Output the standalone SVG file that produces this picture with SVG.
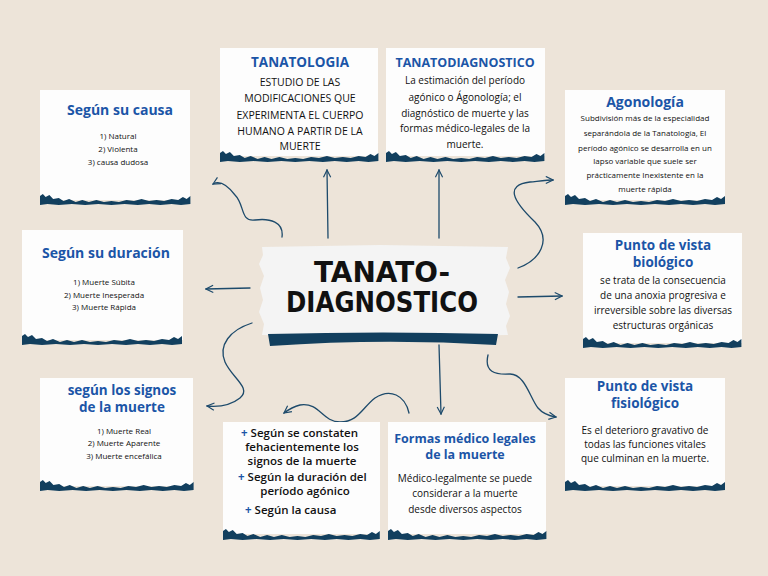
<svg xmlns="http://www.w3.org/2000/svg" width="768" height="576" viewBox="0 0 768 576">
<style>
.card{fill:#fdfdfd}
.tear{fill:#123f5e}
.ttl{font-family:"Open Sans","Noto Sans",sans-serif;font-weight:700;fill:#1b55a7;text-anchor:middle}
.body{font-family:"Open Sans","Noto Sans",sans-serif;fill:#111;text-anchor:middle}
.bul{font-family:"Open Sans","Noto Sans",sans-serif;font-weight:600;fill:#111;font-size:11.5px}
.plus{fill:#1b55a7;font-weight:700}
.con{fill:none;stroke:#1d4a6b;stroke-width:1.3;stroke-linecap:round}
.big{font-family:"DejaVu Sans","Liberation Sans",sans-serif;font-weight:700;fill:#111;text-anchor:middle;font-size:28px}
</style>
<defs>
<marker id="ah" viewBox="0 0 10 10" refX="9" refY="5" markerWidth="9" markerHeight="9" orient="auto" markerUnits="userSpaceOnUse">
<path d="M1,1 L9,5 L1,9" fill="none" stroke="#1d4a6b" stroke-width="1.3"/>
</marker>
<path id="tearp" d="M0,2 L3,0 L6,3 L10,1 L14,5 L20,4 L25,7 L31,5 L38,8 L45,6 L52,8 L60,6 L68,8 L76,7 L84,8 L92,6 L100,7 L108,5 L116,7 L124,6 L132,7 L140,5 L147,6 L152,3 L156,5 L160,2 L160,10 L150,11 L140,10 L128,11 L116,10 L104,11 L90,10 L76,11 L62,10 L48,11 L34,10 L20,11 L8,10 L0,11 Z"/>
</defs>
<rect width="768" height="576" fill="#ede4d9"/>

<g id="connectors">
<path class="con" d="M328,238 L327,170" marker-end="url(#ah)"/>
<path class="con" d="M439,238 L439,170" marker-end="url(#ah)"/>
<path class="con" d="M250,288 L206,289" marker-end="url(#ah)"/>
<path class="con" d="M518,297 L562,296" marker-end="url(#ah)"/>
<path class="con" d="M439,345 L441,414" marker-end="url(#ah)"/>
<path class="con" d="M282,237 C284,222 270,218 255,220 C240,222 245,205 235,195 C228,186 220,180 213,184" marker-end="url(#ah)"/>
<path class="con" d="M518,268 C540,260 552,240 535,222 C512,200 505,185 530,182 C540,181 548,180 553,180" marker-end="url(#ah)"/>
<path class="con" d="M252,323 C230,330 218,345 225,362 C232,378 252,388 240,398 C230,406 218,407 207,406" marker-end="url(#ah)"/>
<path class="con" d="M409,413 C405,395 390,388 375,398 C362,408 358,422 340,422 C322,422 320,402 300,405 C292,407 288,410 284,413" marker-end="url(#ah)"/>
<path class="con" d="M488,355 C484,372 495,375 510,374 C525,374 530,398 538,408 C543,414 550,416 556,417" marker-end="url(#ah)"/>
</g>

<g id="center">
<path d="M262,247 L380,245 L508,247 L506,258 L510,268 L505,280 L509,292 L506,304 L510,316 L506,326 L508,335 L380,337 L262,335 L264,324 L259,312 L263,300 L260,288 L264,276 L259,264 L263,255 Z" fill="#f4f4f4"/>
<path d="M268,334 Q383,331 498,334 L496,345 Q383,338 270,346 Z" fill="#123f5e"/>
<text class="big" x="382" y="282" textLength="136" lengthAdjust="spacingAndGlyphs">TANATO-</text>
<text class="big" x="382" y="312" textLength="192" lengthAdjust="spacingAndGlyphs">DIAGNOSTICO</text>
</g>

<g id="causa">
<rect class="card" x="40" y="90" width="150" height="110"/>
<use href="#tearp" class="tear" transform="translate(40,194) scale(0.94,1)"/>
<text class="ttl" x="120" y="115" font-size="14">Según su causa</text>
<text class="body" x="118" y="139" font-size="8">1) Natural</text>
<text class="body" x="118" y="152" font-size="8">2) Violenta</text>
<text class="body" x="118" y="165" font-size="8">3) causa dudosa</text>
</g>

<g id="tanatologia">
<rect class="card" x="220" y="48" width="158" height="108"/>
<use href="#tearp" class="tear" transform="translate(220,151) scale(0.99,1)"/>
<text class="ttl" x="300" y="67" font-size="13.5">TANATOLOGIA</text>
<text class="body" x="300" y="86" font-size="10.5">ESTUDIO DE LAS</text>
<text class="body" x="300" y="102" font-size="10.5">MODIFICACIONES QUE</text>
<text class="body" x="300" y="119" font-size="10.5">EXPERIMENTA EL CUERPO</text>
<text class="body" x="300" y="135" font-size="10.5">HUMANO A PARTIR DE LA</text>
<text class="body" x="300" y="150" font-size="10.5">MUERTE</text>
</g>

<g id="tanatodiagnostico">
<rect class="card" x="386" y="48" width="159" height="108"/>
<use href="#tearp" class="tear" transform="translate(386,151) scale(0.99,1)"/>
<text class="ttl" x="465" y="67" font-size="12.5">TANATODIAGNOSTICO</text>
<text class="body" x="465" y="84" font-size="10">La estimación del período</text>
<text class="body" x="465" y="101" font-size="10">agónico o Ágonología; el</text>
<text class="body" x="465" y="117" font-size="10">diagnóstico de muerte y las</text>
<text class="body" x="465" y="132" font-size="10">formas médico-legales de la</text>
<text class="body" x="465" y="148" font-size="10">muerte.</text>
</g>

<g id="agonologia">
<rect class="card" x="565" y="90" width="160" height="110"/>
<use href="#tearp" class="tear" transform="translate(565,194)"/>
<text class="ttl" x="645" y="107" font-size="14">Agonología</text>
<text class="body" x="645" y="121" font-size="8">Subdivisión más de la especialidad</text>
<text class="body" x="645" y="136" font-size="8">separándola de la Tanatología, El</text>
<text class="body" x="645" y="151" font-size="8">período agónico se desarrolla en un</text>
<text class="body" x="645" y="164" font-size="8">lapso variable que suele ser</text>
<text class="body" x="645" y="178" font-size="8">prácticamente Inexistente en la</text>
<text class="body" x="645" y="192" font-size="8">muerte rápida</text>
</g>

<g id="duracion">
<rect class="card" x="22" y="230" width="161" height="110"/>
<use href="#tearp" class="tear" transform="translate(22,334) scale(1.0,1)"/>
<text class="ttl" x="106" y="258" font-size="14">Según su duración</text>
<text class="body" x="104" y="285" font-size="8">1) Muerte Súbita</text>
<text class="body" x="104" y="298" font-size="8">2) Muerte Inesperada</text>
<text class="body" x="104" y="310" font-size="8">3) Muerte Rápida</text>
</g>

<g id="biologico">
<rect class="card" x="583" y="233" width="159" height="110"/>
<use href="#tearp" class="tear" transform="translate(583,337) scale(0.99,1)"/>
<text class="ttl" x="663" y="250" font-size="13.5">Punto de vista</text>
<text class="ttl" x="663" y="267" font-size="13.5">biológico</text>
<text class="body" x="663" y="284" font-size="10">se trata de la consecuencia</text>
<text class="body" x="663" y="299" font-size="10">de una anoxia progresiva e</text>
<text class="body" x="663" y="314" font-size="10">irreversible sobre las diversas</text>
<text class="body" x="663" y="329" font-size="10">estructuras orgánicas</text>
</g>

<g id="signos">
<rect class="card" x="40" y="378" width="153" height="108"/>
<use href="#tearp" class="tear" transform="translate(40,480) scale(0.96,1)"/>
<text class="ttl" x="122" y="395" font-size="13.5">según los signos</text>
<text class="ttl" x="122" y="412" font-size="13.5">de la muerte</text>
<text class="body" x="124" y="434" font-size="8">1) Muerte Real</text>
<text class="body" x="124" y="446" font-size="8">2) Muerte Aparente</text>
<text class="body" x="124" y="459" font-size="8">3) Muerte encefálica</text>
</g>

<g id="fisiologico">
<rect class="card" x="565" y="378" width="160" height="108"/>
<use href="#tearp" class="tear" transform="translate(565,480)"/>
<text class="ttl" x="645" y="391" font-size="13.5">Punto de vista</text>
<text class="ttl" x="645" y="408" font-size="13.5">fisiológico</text>
<text class="body" x="645" y="434" font-size="10">Es el deterioro gravativo de</text>
<text class="body" x="645" y="448" font-size="10">todas las funciones vitales</text>
<text class="body" x="645" y="462" font-size="10">que culminan en la muerte.</text>
</g>

<g id="aspectos">
<rect class="card" x="223" y="422" width="157" height="112"/>
<use href="#tearp" class="tear" transform="translate(223,529) scale(0.98,1)"/>
<text class="bul" x="241" y="437"><tspan class="plus">+</tspan> Según se constaten</text>
<text class="bul" x="302" y="451" text-anchor="middle">fehacientemente los</text>
<text class="bul" x="302" y="465" text-anchor="middle">signos de la muerte</text>
<text class="bul" x="238" y="481"><tspan class="plus">+</tspan> Según la duración del</text>
<text class="bul" x="305" y="495" text-anchor="middle">período agónico</text>
<text class="bul" x="245" y="514"><tspan class="plus">+</tspan>  Según la causa</text>
</g>

<g id="formas">
<rect class="card" x="388" y="422" width="158" height="112"/>
<use href="#tearp" class="tear" transform="translate(388,529) scale(0.99,1)"/>
<text class="ttl" x="465" y="443" font-size="12.5">Formas médico legales</text>
<text class="ttl" x="465" y="459" font-size="12.5">de la muerte</text>
<text class="body" x="465" y="482" font-size="10">Médico-legalmente se puede</text>
<text class="body" x="465" y="497" font-size="10">considerar a la muerte</text>
<text class="body" x="465" y="513" font-size="10">desde diversos aspectos</text>
</g>
</svg>
